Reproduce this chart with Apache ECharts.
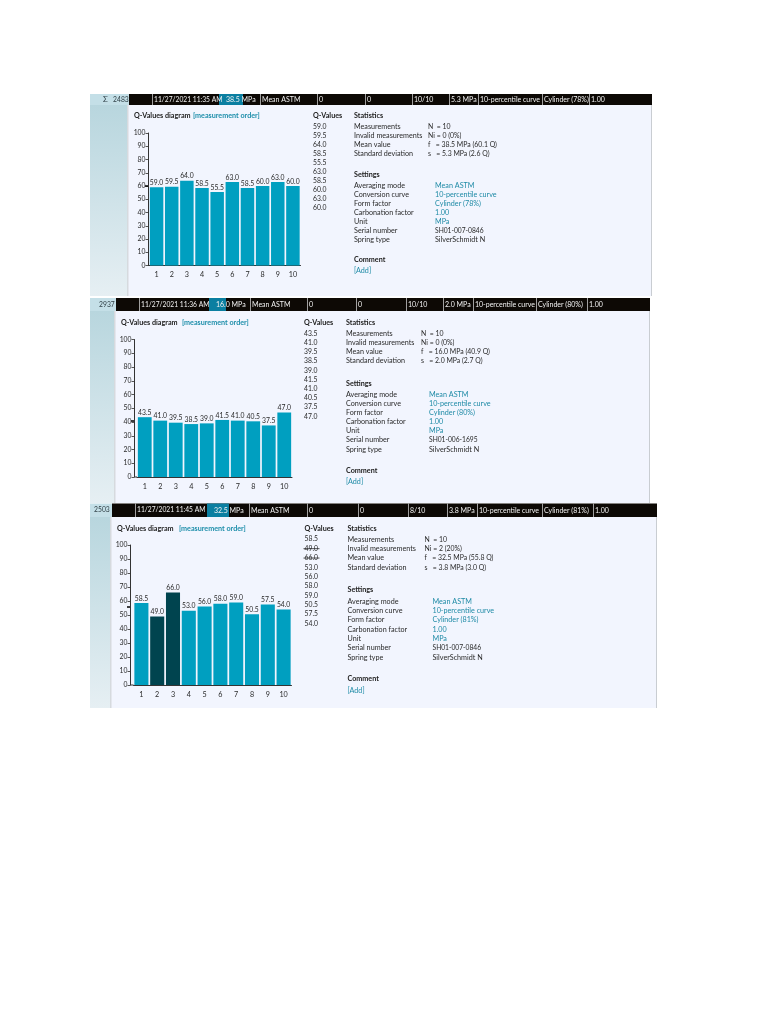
<!DOCTYPE html>
<html>
<head>
<meta charset="utf-8">
<title>Q-Values</title>
<script src="https://cdn.jsdelivr.net/npm/echarts@6/dist/echarts.min.js"></script>
<style>
html, body { margin: 0; padding: 0; background: #fff; }
#main { width: 768px; height: 1024px; filter: blur(0.3px); }
</style>
</head>
<body>
<div id="main"></div>
<script>
// chart data
var categories = ['1', '2', '3', '4', '5', '6', '7', '8', '9', '10'];
var qValues1 = [59.0, 59.5, 64.0, 58.5, 55.5, 63.0, 58.5, 60.0, 63.0, 60.0];
var qValues2 = [43.5, 41.0, 39.5, 38.5, 39.0, 41.5, 41.0, 40.5, 37.5, 47.0];
var qValues3 = [58.5, 49.0, 66.0, 53.0, 56.0, 58.0, 59.0, 50.5, 57.5, 54.0];
var invalid3 = [1, 2];
var meanQ1 = [60.1];
var meanQ2 = [40.9];
var meanQ3 = [55.8];

// texts
var ids = ['2483', '2937', '2503'];
var header1 = ['11/27/2021 11:35 AM', '38.5 MPa', 'Mean ASTM', '0', '0', '10/10', '5.3 MPa', '10-percentile curve', 'Cylinder (78%)', '1.00'];
var header2 = ['11/27/2021 11:36 AM', '16.0 MPa', 'Mean ASTM', '0', '0', '10/10', '2.0 MPa', '10-percentile curve', 'Cylinder (80%)', '1.00'];
var header3 = ['11/27/2021 11:45 AM', '32.5 MPa', 'Mean ASTM', '0', '0', '8/10', '3.8 MPa', '10-percentile curve', 'Cylinder (81%)', '1.00'];
var statLabels = ['Measurements', 'Invalid measurements', 'Mean value', 'Standard deviation'];
var stats1 = ['N  = 10', 'Ni = 0 (0%)', 'f   = 38.5 MPa (60.1 Q)', 's   = 5.3 MPa (2.6 Q)'];
var stats2 = ['N  = 10', 'Ni = 0 (0%)', 'f   = 16.0 MPa (40.9 Q)', 's   = 2.0 MPa (2.7 Q)'];
var stats3 = ['N  = 10', 'Ni = 2 (20%)', 'f   = 32.5 MPa (55.8 Q)', 's   = 3.8 MPa (3.0 Q)'];
var settingLabels = ['Averaging mode', 'Conversion curve', 'Form factor', 'Carbonation factor', 'Unit', 'Serial number', 'Spring type'];
var settings1 = ['Mean ASTM', '10-percentile curve', 'Cylinder (78%)', '1.00', 'MPa', 'SH01-007-0846', 'SilverSchmidt N'];
var settings2 = ['Mean ASTM', '10-percentile curve', 'Cylinder (80%)', '1.00', 'MPa', 'SH01-006-1695', 'SilverSchmidt N'];
var settings3 = ['Mean ASTM', '10-percentile curve', 'Cylinder (81%)', '1.00', 'MPa', 'SH01-007-0846', 'SilverSchmidt N'];

var FONT = 'Lato';
var BLUE = '#009fc0';
var DARK = '#00444f';
var LINK = '#1f8ba6';
var TEXT = '#2a2a2a';

// panel layout, one entry per record
var panels = [
    {
        id: ids[0], header: header1, qValues: qValues1, meanQ: meanQ1, stats: stats1, settings: settings1, invalid: [],
        left: 90, cellRight: 128, right: 652, top: 94, barBottom: 105, bottom: 296,
        seps: [152, 260, 317, 365, 412, 449, 478, 542, 589], blue: [219, 243], idX: 113, icon: true,
        axisX: 148, plotLeft: 149, plotRight: 300.5, y100: 133, y0: 265.5,
        titleX: 134, linkX: 193, titleY: 116,
        qX: 313, statX: 354, statValX: 428, setValX: 435,
        rowY: 126.7, qStep: 8.96, statStep: 9.1, setTitleY: 175, setY: 185.7, setStep: 9, commentY: 260, addY: 271
    },
    {
        id: ids[1], header: header2, qValues: qValues2, meanQ: meanQ2, stats: stats2, settings: settings2, invalid: [],
        left: 90, cellRight: 115, right: 650, top: 298, barBottom: 311, bottom: 503,
        seps: [139, 250, 307, 356, 406, 443, 473, 536, 587], blue: [209, 226], idX: 99,
        axisX: 134, plotLeft: 137, plotRight: 292, y100: 339.5, y0: 477,
        titleX: 121, linkX: 182, titleY: 323,
        qX: 304, statX: 346, statValX: 421, setValX: 429,
        rowY: 333.7, qStep: 9.18, statStep: 9.15, setTitleY: 383.3, setY: 394.3, setStep: 9.17, commentY: 471, addY: 482
    },
    {
        id: ids[2], header: header3, qValues: qValues3, meanQ: meanQ3, stats: stats3, settings: settings3, invalid: invalid3,
        left: 90, cellRight: 111, right: 657, top: 503.5, barBottom: 517, bottom: 708,
        seps: [135, 249, 307, 358, 408, 447, 477, 542, 593], blue: [207, 229], idX: 94,
        axisX: 130, plotLeft: 133.5, plotRight: 291.5, y100: 545, y0: 685,
        titleX: 117, linkX: 179, titleY: 528.7,
        qX: 304.5, statX: 347.5, statValX: 424.5, setValX: 432.5,
        rowY: 539.3, qStep: 9.37, statStep: 9.4, setTitleY: 589.7, setY: 601.3, setStep: 9.33, commentY: 679, addY: 690.7
    }
];

function rect(x, y, w, h, fill) {
    return { type: 'rect', silent: true, shape: { x: x, y: y, width: w, height: h }, style: { fill: fill } };
}

function label(str, x, y, color, size, bold) {
    return {
        type: 'text', silent: true, x: x, y: y,
        style: {
            text: str, fill: color || TEXT, verticalAlign: 'middle',
            font: (bold ? 'bold ' : '') + (size || 7.2) + 'px ' + FONT
        }
    };
}

function rule(x1, x2, y1, y2, color, width) {
    return {
        type: 'line', silent: true,
        shape: { x1: x1, y1: y1, x2: x2, y2: y2 },
        style: { stroke: color, lineWidth: width }
    };
}

var graphics = [];
var grids = [];
var xAxes = [];
var yAxes = [];
var series = [];

panels.forEach(function (p, n) {
    // backgrounds
    graphics.push(rect(p.cellRight, p.barBottom, p.right - p.cellRight, p.bottom - p.barBottom, '#f2f5fe'));
    graphics.push(rect(p.left, p.barBottom, p.cellRight - p.left - 1, p.bottom - p.barBottom, {
        type: 'linear', x: 0, y: 0, x2: 0, y2: 1,
        colorStops: [{ offset: 0, color: '#b8d6de' }, { offset: 1, color: '#e6eff3' }]
    }));
    graphics.push(rect(p.cellRight - 1, p.barBottom, 1.5, p.bottom - p.barBottom, '#d6dade'));
    graphics.push(rect(p.right - 1, p.barBottom, 1, p.bottom - p.barBottom, '#c9cdd2'));

    // header bar
    graphics.push(rect(p.left, p.top, p.cellRight - p.left + 1, p.barBottom - p.top, '#c4dfe7'));
    graphics.push(rect(p.cellRight + 1, p.top, p.right - p.cellRight - 1, p.barBottom - p.top, '#0d0905'));
    graphics.push(rect(p.blue[0], p.top, p.blue[1] - p.blue[0], p.barBottom - p.top, '#0b7fa1'));
    p.seps.forEach(function (s) {
        graphics.push(rect(s, p.top, 0.8, p.barBottom - p.top, '#c8c8c8'));
    });
    var midY = (p.top + p.barBottom) / 2;
    var starts = [p.seps[0], p.blue[0] + 5].concat(p.seps.slice(1));
    p.header.forEach(function (str, i) {
        graphics.push(label(str, starts[i] + 2, midY, '#f2f2f2', i === 0 ? 6.7 : 7));
    });
    graphics.push(label(p.id, p.idX, midY, '#2f3f45', 6.8));
    if (p.icon) {
        graphics.push(label('Σ', 103, midY, '#2f3f45', 8));
    }

    // titles
    graphics.push(label('Q-Values diagram', p.titleX, p.titleY, '#222', 7.2, true));
    graphics.push(label('[measurement order]', p.linkX, p.titleY, '#1d8eaa', 7.2, true));
    graphics.push(label('Q-Values', p.qX, p.titleY, '#222', 7.2, true));
    graphics.push(label('Statistics', p.statX, p.titleY, '#222', 7.2, true));

    // Q list
    p.qValues.forEach(function (v, i) {
        var y = p.rowY + i * p.qStep;
        graphics.push(label(v.toFixed(1), p.qX, y, TEXT, 6.8));
        if (p.invalid.indexOf(i) >= 0) {
            graphics.push(rule(p.qX - 1, p.qX + 15, y, y, '#222', 0.8));
        }
    });

    // statistics and settings
    statLabels.forEach(function (str, i) {
        var y = p.rowY + i * p.statStep;
        graphics.push(label(str, p.statX, y));
        graphics.push(label(p.stats[i], p.statValX, y, TEXT, 6.9));
    });
    graphics.push(label('Settings', p.statX, p.setTitleY, '#222', 7.2, true));
    settingLabels.forEach(function (str, i) {
        var y = p.setY + i * p.setStep;
        graphics.push(label(str, p.statX, y));
        graphics.push(label(p.settings[i], p.setValX, y, i < 5 ? LINK : TEXT, i === 5 ? 6.7 : 7.2));
    });
    graphics.push(label('Comment', p.statX, p.commentY, '#222', 7.2, true));
    graphics.push(label('[Add]', p.statX, p.addY, LINK));

    // baseline reaches back to the y axis
    graphics.push(rule(p.axisX, p.plotLeft, p.y0, p.y0, '#333', 1));

    // chart
    grids.push({
        left: p.plotLeft, width: p.plotRight - p.plotLeft,
        top: p.y100, height: p.y0 - p.y100
    });
    xAxes.push({
        type: 'category', gridIndex: n, data: categories,
        axisLine: { lineStyle: { color: '#333', width: 1 } },
        axisTick: { show: false },
        axisLabel: { color: TEXT, fontFamily: FONT, fontSize: 7.2, margin: 6, interval: 0 }
    });
    var offset = p.plotLeft - p.axisX;
    yAxes.push({
        type: 'value', gridIndex: n, min: 0, max: 100, interval: 10, offset: offset,
        axisLine: { show: true, lineStyle: { color: '#333', width: 1 } },
        axisTick: { show: true, length: 2.5, lineStyle: { color: '#555', width: 1 } },
        axisLabel: { color: TEXT, fontFamily: FONT, fontSize: 6.8, margin: 2.5 },
        splitLine: { show: false }
    });
    // mean Q marker on the axis
    yAxes.push({
        type: 'value', gridIndex: n, position: 'left', min: 0, max: 100, offset: offset,
        axisLine: { show: false },
        axisTick: { show: true, length: 3, lineStyle: { color: '#000', width: 1.5 }, customValues: p.meanQ },
        axisLabel: { show: false },
        splitLine: { show: false }
    });
    series.push({
        type: 'bar', xAxisIndex: n, yAxisIndex: n * 2,
        barCategoryGap: '11%',
        data: p.qValues.map(function (v, i) {
            return { value: v, itemStyle: { color: p.invalid.indexOf(i) >= 0 ? DARK : BLUE } };
        }),
        label: {
            show: true, position: 'top', distance: 1, color: TEXT,
            fontFamily: FONT, fontSize: 6.8,
            formatter: function (d) { return d.value.toFixed(1); }
        },
        silent: true, animation: false
    });
});

var myChart = echarts.init(document.getElementById('main'));
myChart.setOption({
    animation: false,
    backgroundColor: '#ffffff',
    tooltip: { show: false },
    grid: grids,
    xAxis: xAxes,
    yAxis: yAxes,
    series: series,
    graphic: { elements: graphics }
});
</script>
</body>
</html>
